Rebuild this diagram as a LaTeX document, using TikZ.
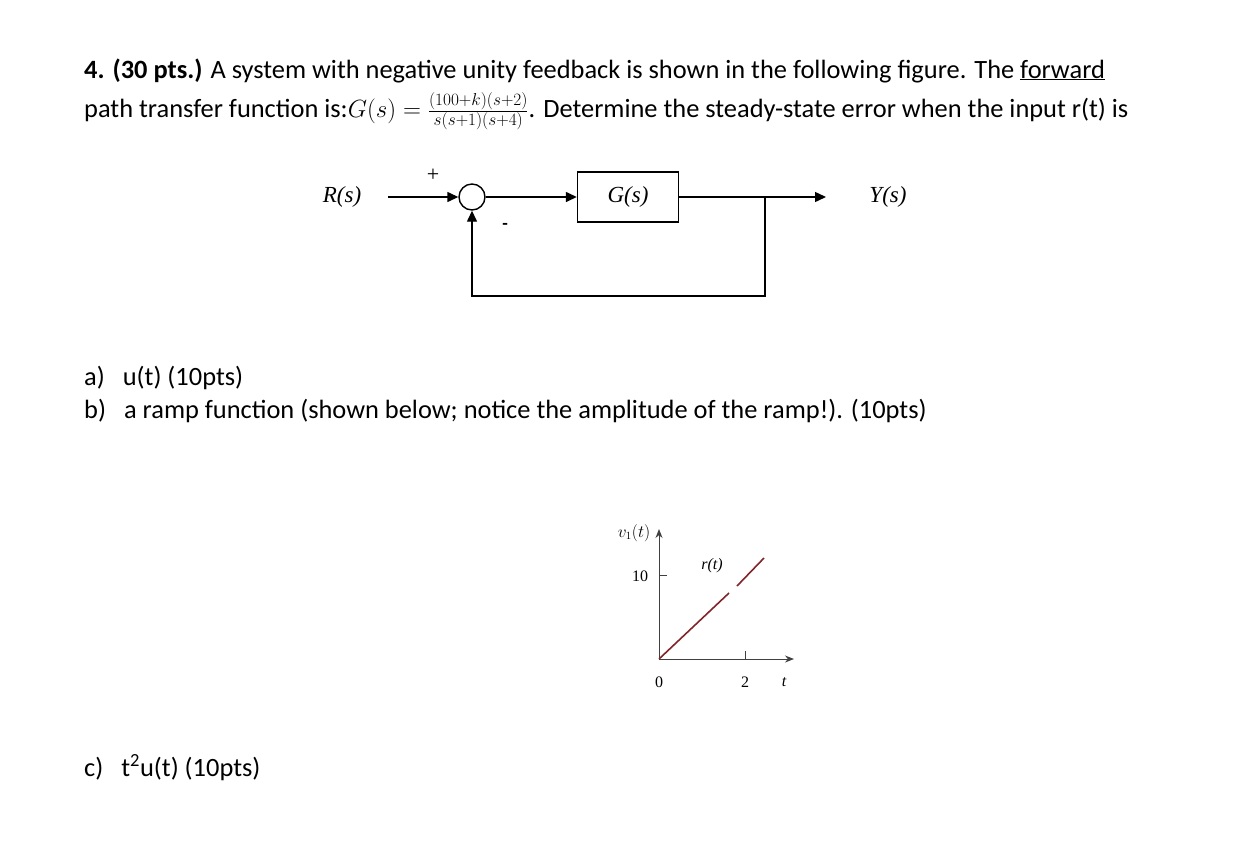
\documentclass[tikz,border=0pt]{standalone}
\usepackage{fontspec}
\setmainfont{Carlito}
\newfontfamily\tms{Liberation Serif}
\usetikzlibrary{arrows.meta}
\definecolor{ramp}{RGB}{128,38,42}
\begin{document}
\begin{tikzpicture}[x=1pt,y=-1pt,
  txt/.style={anchor=base west,inner sep=0,font=\fontsize{26.4}{30}\selectfont},
  lbl/.style={font=\tms\itshape\fontsize{23}{26}\selectfont,inner sep=0},
  sig/.style={line width=1.4pt,-{Triangle[length=11pt,width=10pt]}},
  ax/.style={line width=1pt,draw=black!75,-{Stealth[length=9pt,width=7pt]}},
  small/.style={font=\tms\fontsize{16}{18}\selectfont,inner sep=0}]
\useasboundingbox (0,0) rectangle (1240,844);
\node[txt] (l1) at (84,78) {\textbf{4. (30 pts.)} A system with negative unity feedback is shown in the following figure.  The \underline{forward}};
\node[txt] (l2) at (84,117) {path transfer function is:$G(s)=\frac{(100+k)(s+2)}{s(s+1)(s+4)}$. Determine the steady-state error when the input r(t) is};
% block diagram
\node[lbl] (R) at (342,197) {R(s)};
\node[circle,draw,line width=1.4pt,minimum size=26pt,inner sep=0] (sum) at (472,197) {};
\node[draw,line width=1.4pt,minimum width=101pt,minimum height=50pt,inner sep=0] (G) at (628,197) {\tms\itshape\fontsize{23}{26}\selectfont G(s)};
\node[lbl] (Y) at (888,197) {Y(s)};
\coordinate (in) at (388,197);
\coordinate (out) at (826,197);
\coordinate (br) at (765,197);
\draw[sig] (in) -- (sum.west);
\draw[sig] (sum.east) -- (G.west);
\draw[sig] (G.east) -- (out);
\draw[sig] (br) -- (765,296) -- (472,296) -- (sum.south);
\node[font=\tms\fontsize{22}{24}\selectfont] (plus) at (433,175) {+};
\node[font=\bfseries\fontsize{18}{20}\selectfont] (minus) at (505,226) {-};
% items
\node[txt] (a) at (84,385) {a)\hspace{18pt}u(t) (10pts)};
\node[txt] (b) at (84,418) {b)\hspace{18pt}a ramp function (shown below; notice the amplitude of the ramp!). (10pts)};
\node[txt] (c) at (84,776) {c)\hspace{18pt}t\textsuperscript{2}u(t) (10pts)};
% ramp plot
\coordinate (O) at (659,659);
\draw[ax] (O) -- (659,529);
\draw[ax] (O) -- (794,659);
\draw[line width=1pt,black!75] (659,575) -- (667,575) (745,659) -- (745,651);
\draw[ramp,line width=1.6pt] (O) -- (729,593) (737,586) -- (764,558);
\node[small] (v) at (634,533) {$v_1(t)$};
\node[small] (ten) at (640,576) {10};
\node[small,font=\tms\itshape\fontsize{16}{18}\selectfont] (r) at (712,566) {r(t)};
\node[small] (z) at (659,682) {0};
\node[small] (two) at (745,682) {2};
\node[small,font=\tms\itshape\fontsize{16}{18}\selectfont] (t) at (784,682) {t};
\end{tikzpicture}
\end{document}
